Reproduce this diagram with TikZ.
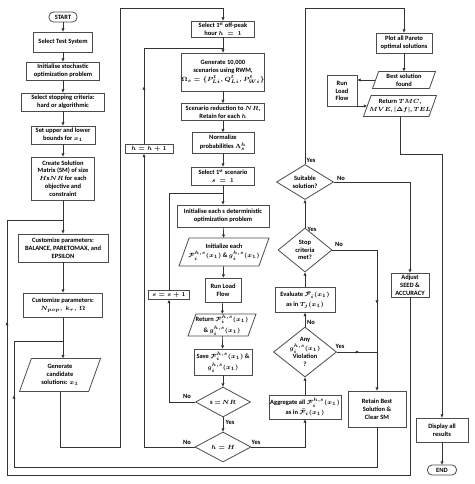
\documentclass[tikz,border=0pt]{standalone}
\usepackage{amsmath,amssymb}
\usepackage{fontspec}
\setmainfont{Carlito}
\usetikzlibrary{shapes.geometric,arrows.meta,calc,decorations.markings}
\newcommand{\paranode}[6]{%
  \draw[draw=black!70, line width=0.8pt, fill=white]
    ({#2-#4/2+0.36*#5},{#3-#5/2}) -- ({#2+#4/2},{#3-#5/2}) --
    ({#2+#4/2-0.36*#5},{#3+#5/2}) -- ({#2-#4/2},{#3+#5/2}) -- cycle;
  \node[txt, minimum width={#4-0.36*#5}, minimum height=#5] (#1) at (#2,#3) {#6};}
\begin{document}
\begin{tikzpicture}[x=1pt,y=-1pt,
  txt/.style={font=\fontsize{6.5}{7.8}\selectfont\bfseries\boldmath, align=center, inner sep=0pt, text=black},
  bx/.style 2 args={txt, draw=black!70, line width=0.8pt, fill=white, minimum width=#1, minimum height=#2},
  term/.style 2 args={bx={#1}{#2}, rounded corners=4.5pt},
  dshape/.style 2 args={draw=black!70, line width=0.8pt, fill=white, diamond, minimum width=#1, minimum height=#2, inner sep=1pt},
  ln/.style={draw=black!80, line width=0.7pt},
  arr/.style={ln, -{Triangle[length=3.2pt,width=2.8pt]}},
  midarr/.style={postaction={decorate}, decoration={markings, mark=at position #1 with {\arrow{Triangle[length=3.2pt,width=2.8pt]}}}},
  lab/.style={txt}
]
\useasboundingbox (0,0) rectangle (474,484);
\fill[white] (0,0) rectangle (474,484);

% ---------- left column ----------
\node[term={28}{10}] (start) at (63,17) {START};
\node[bx={59}{20}] (sts) at (63,42) {Select Test System};
\node[bx={73}{18}] (init) at (63,71) {Initialise stochastic\\optimization problem};
\node[bx={83}{18}] (stop) at (63,102) {Select stopping criteria:\\hard or algorithmic};
\node[bx={64}{18}] (bounds) at (63,135) {Set upper and lower\\bounds for $x_1$};
\node[bx={63}{43}] (sm) at (63,178.5) {Create Solution\\Matrix (SM) of size\\$H$x$NR$ for each\\objective and\\constraint};
\node[bx={90}{28}] (cp1) at (63,248) {Customize parameters:\\BALANCE, PARETOMAX, and\\EPSILON};
\node[bx={79}{24}] (cp2) at (63,305) {Customize parameters:\\$N_{pop},\,k_r,\,\Omega$};
\paranode{gen}{60}{375}{81}{33}{Generate\\candidate\\solutions: $x_1$}

% ---------- middle column ----------
\node[bx={63}{16}] (hour) at (223,29) {Select 1\textsuperscript{st} off-peak\\hour $h\ =\ 1$};
\node[bx={80}{38}] (gen10) at (223,72) {Generate 10,000\\scenarios using RWM,\\[1pt]$\Omega_s=\{P^t_{Li},Q^t_{Li},P^t_{Wi}\}$};
\node[bx={83}{17}] (red) at (223,112) {Scenario reduction to $NR$,\\Retain for each $h$};
\node[bx={62}{21}] (norm) at (223,143) {Normalize\\[1.5pt]probabilities $\Lambda^h_s$};
\node[bx={48}{9}] (hh) at (149,149) {$h = h + 1$};
\node[bx={63}{18}] (s1) at (223,176) {Select 1\textsuperscript{st} scenario\\$s\ =\ 1$};
\node[bx={92}{22}] (initS) at (223,216) {Initialise each s deterministic\\optimization problem};
\paranode{initF}{224}{252}{90}{28}{Initialize each\\[1.5pt]$\mathcal{F}^{h,s}_i(x_1)$ \& $g^{h,s}_i(x_1)$}
\node[bx={36}{24}] (rlf) at (223,290) {Run Load\\Flow};
\node[bx={41}{9}] (ss) at (169,295) {$s = s + 1$};
\paranode{ret}{222}{325}{68}{22}{Return $\mathcal{F}^{h,s}_i(x_1)$\\[1.5pt]\& $g^{h,s}_i(x_1)$}
\node[bx={58}{26}] (save) at (223,362) {Save $\mathcal{F}^{h,s}_i(x_1)$ \&\\[1.5pt]$g^{h,s}_i(x_1)$};
\node[dshape={55}{30}] (snr) at (223,402) {};
\node[txt] (snr-t) at (snr) {s $=$ $NR$};
\node[dshape={56}{30}] (hH) at (223,447) {};
\node[txt] (hH-t) at (hH) {$h = H$};

% ---------- right column ----------
\node[dshape={57}{35}] (suit) at (305,182) {};
\node[txt] (suit-t) at (suit) {Suitable\\solution?};
\node[dshape={54}{44}] (stopc) at (305,250) {};
\node[txt] (stopc-t) at (stopc) {Stop\\criteria\\met?};
\node[bx={60}{25}] (eval) at (305,300) {Evaluate $\bar{\mathcal{F}}_i(x_1)$\\[1.5pt]as in $T_j(x_1)$};
\node[dshape={63}{50}] (anyv) at (305,352) {};
\node[txt] (anyv-t) at (anyv) {Any\\[1pt]$g^{h,s}_i(x_1)$\\[0.5pt]Violation\\?};
\node[bx={72}{24}] (agg) at (305,407) {Aggregate all $\mathcal{F}^{h,s}_i(x_1)$\\[2pt]as in $\bar{\mathcal{F}}_i(x_1)$};
\node[bx={58}{36}] (retain) at (377,409) {Retain Best\\Solution \&\\Clear SM};
\node[bx={38}{24}] (adj) at (410,285) {Adjust\\SEED \&\\ACCURACY};
\node[bx={56}{20}] (plot) at (404,43) {Plot all Pareto\\optimal solutions};
\paranode{best}{404}{80}{63}{17}{Best solution\\found}
\node[bx={30}{31}] (rlf2) at (342,91) {Run\\Load\\Flow};
\paranode{rett}{400}{106}{73}{21}{Return $TMC$,\\$MVE$, $|\Delta f|$, $TEL$}
\node[bx={52}{24}] (disp) at (442,430) {Display all\\results};
\node[term={29}{10}] (end) at (442,470) {END};

% ---------- coordinates ----------
\coordinate (j1) at (63,220);
\coordinate (j2) at (63,341);
\coordinate (o1) at (410,475);
\coordinate (o2) at (7,475);
\coordinate (o3) at (7,220);
\coordinate (i1) at (377,467.5);
\coordinate (i2) at (14,467.5);
\coordinate (i3) at (14,341);
\coordinate (g1) at (120,447);
\coordinate (g2) at (120,8);
\coordinate (hb) at (144,447);
\coordinate (ht) at (144,48);
\coordinate (hj) at (223,48);
\coordinate (sj) at (223,193);
\coordinate (t1) at (305,8);
\coordinate (d1) at (442,154);

% ---------- left connectors ----------
\draw[arr] (start) -- (sts);
\draw[arr] (sts) -- (init);
\draw[arr] (init) -- (stop);
\draw[arr] (stop) -- (bounds);
\draw[arr] (bounds) -- (sm);
\draw[arr] (sm) -- (cp1);
\draw[arr] (cp1) -- (cp2);
\draw[arr] (cp2.south) -- (cp2.south |- gen.north);
\draw[ln] (adj.south) -- (o1) -- (o2);
\draw[ln, midarr=0.6] (o2) -- (o3);
\draw[ln] (o3) -- (j1);
\draw[ln] (retain.south) -- (i1) -- (i2);
\draw[ln, midarr=0.57] (i2) -- (i3);
\draw[ln] (i3) -- (j2);
\draw[arr] (gen.south) |- (g1) -- (g2) -| (hour.north);

% ---------- middle connectors ----------
\draw[arr] (hour) -- (gen10);
\draw[arr] (gen10) -- (red);
\draw[arr] (red) -- (norm);
\draw[arr] (norm) -- (s1);
\draw[arr] (s1) -- (initS);
\draw[arr] (initS) -- (initF);
\draw[arr] (initF) -- (rlf);
\draw[arr] (rlf) -- (ret);
\draw[arr] (ret) -- (save);
\draw[arr] (save) -- (snr);
\draw[arr] (snr) -- (hH);
\draw[arr] (hH.west) -- (hb) -- (hb |- hh.south);
\draw[ln, midarr=0.6] (ht |- hh.north) -- (ht);
\draw[ln] (ht) -- (hj);
\draw[arr] (snr.west) -| (ss.south);
\draw[ln] (ss.north) |- (sj);

% ---------- right connectors ----------
\draw[arr] (hH.east) -| (agg.south);
\draw[arr] (agg) -- (anyv);
\draw[arr] (anyv) -- (eval);
\draw[arr] (eval) -- (stopc);
\draw[arr] (stopc) -- (suit);
\draw[arr] (suit.north) -- (t1) -| (plot.north);
\draw[arr] (suit.east) -| (adj.north);
\draw[arr, midarr=0.53] (stopc.east) -| (retain.north);
\draw[ln, midarr=0.55] (anyv.east) -- (anyv.east -| retain.north);
\draw[arr] (plot) -- (best);
\draw[arr] (best.west) -- (best.west -| rlf2.east);
\draw[arr] (rlf2.east |- rett.west) -- (rett.west);
\draw[arr] (rett.south) |- (d1) -- (disp.north);
\draw[arr] (disp) -- (end);

% ---------- labels ----------
\node[lab] (l1) at (187,396) {No};
\node[lab] (l2) at (230,422) {Yes};
\node[lab] (l3) at (187,442) {No};
\node[lab] (l4) at (256,442) {Yes};
\node[lab] (l5) at (311,160) {Yes};
\node[lab] (l6) at (341,178) {No};
\node[lab] (l7) at (312,229) {Yes};
\node[lab] (l8) at (339,244) {No};
\node[lab] (l9) at (311,322) {No};
\node[lab] (l10) at (340,346) {Yes};
\end{tikzpicture}
\end{document}
